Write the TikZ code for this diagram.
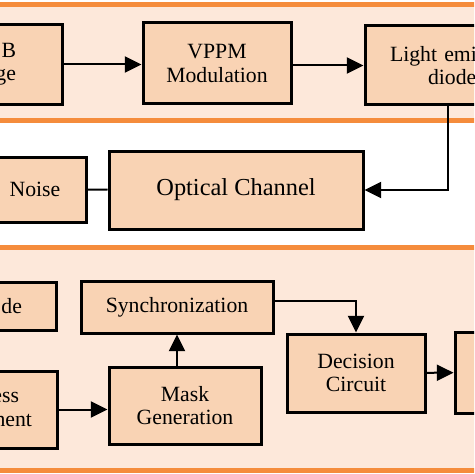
\documentclass[tikz,border=0pt]{standalone}
\usepackage{fontspec}
\setmainfont{Liberation Serif}
\usetikzlibrary{arrows.meta}

\definecolor{boxfill}{RGB}{249,211,180}
\definecolor{bandfill}{RGB}{253,232,218}
\definecolor{bandline}{RGB}{245,140,60}

\tikzset{
  blk/.style={draw=black, line width=2.25pt, fill=boxfill, inner sep=0pt, align=center,
    font=\fontsize{16.3}{17.5}\selectfont},
  link/.style={line width=1.5pt, -{Triangle[length=12.5pt,width=12pt]}},
  wire/.style={line width=1.5pt},
  rule/.style={draw=bandline, line width=3.75pt},
}

\begin{document}
\begin{tikzpicture}[x=0.75pt,y=0.75pt,yscale=-1,xscale=1]
\useasboundingbox (0,0) rectangle (474,474);
\clip (0,0) rectangle (474,474);

%Bands
\fill [bandfill] (-5,5) rectangle (480,121);
\fill [bandfill] (-5,247) rectangle (480,470);
\draw [rule] (-5,5) -- (480,5);
\draw [rule] (-5,121) -- (480,121);
\draw [rule] (-5,247) -- (480,247);
\draw [rule] (-5,470) -- (480,470);

%Flowchart: Process
\node [blk, minimum width=105pt, minimum height=60pt, text width=36pt, align=right] (rgb) at (-8,64.5) {B\\ge};
\node [blk, minimum width=111pt, minimum height=60.75pt] (vppm) at (217,63.5) {VPPM\\Modulation};
\node [blk, minimum width=124.5pt, minimum height=59.25pt, text width=87pt, align=left] (led) at (448,65.5) {Light emi\\\hspace*{28.5pt}diode};
\node [blk, minimum width=76.5pt, minimum height=48.75pt] (noise) at (35,189.5) {Noise};
\node [blk, minimum width=190.5pt, minimum height=58.5pt, font=\fontsize{18.3}{20}\selectfont] (optical) at (236,190) {Optical Channel};
\node [blk, minimum width=117pt, minimum height=36pt, text width=66pt, align=right] (pd) at (-22,306) {de};
\node [blk, minimum width=144pt, minimum height=39pt] (sync) at (177,307) {Synchronization};
\node [blk, minimum width=115.5pt, minimum height=57.75pt, text width=78pt, align=right] (bright) at (-20,409.5) {ess\kern9.75pt\\nent};
\node [blk, minimum width=114pt, minimum height=57.75pt] (mask) at (185,405.5) {Mask\\Generation};
\node [blk, minimum width=103.5pt, minimum height=58.5pt] (decision) at (356,373) {Decision\\Circuit};
\node [blk, minimum width=82.5pt, minimum height=60.75pt] (out) at (510,372.5) {};

%Straight Lines
\draw [link] (rgb) -- (rgb -| vppm.west);
\draw [link] (vppm.east |- led) -- (led);
\draw [link] (led.south) |- (optical.east);
\draw [wire] (noise) -- (optical);
\draw [link] (bright) -- (bright -| mask.west);
\draw [link] (mask.north -| sync) -- (sync.south);
\draw [link] (sync.east) ++(0,-6) -| (decision);
\draw [link] (decision) -- (out);

\end{tikzpicture}
\end{document}
